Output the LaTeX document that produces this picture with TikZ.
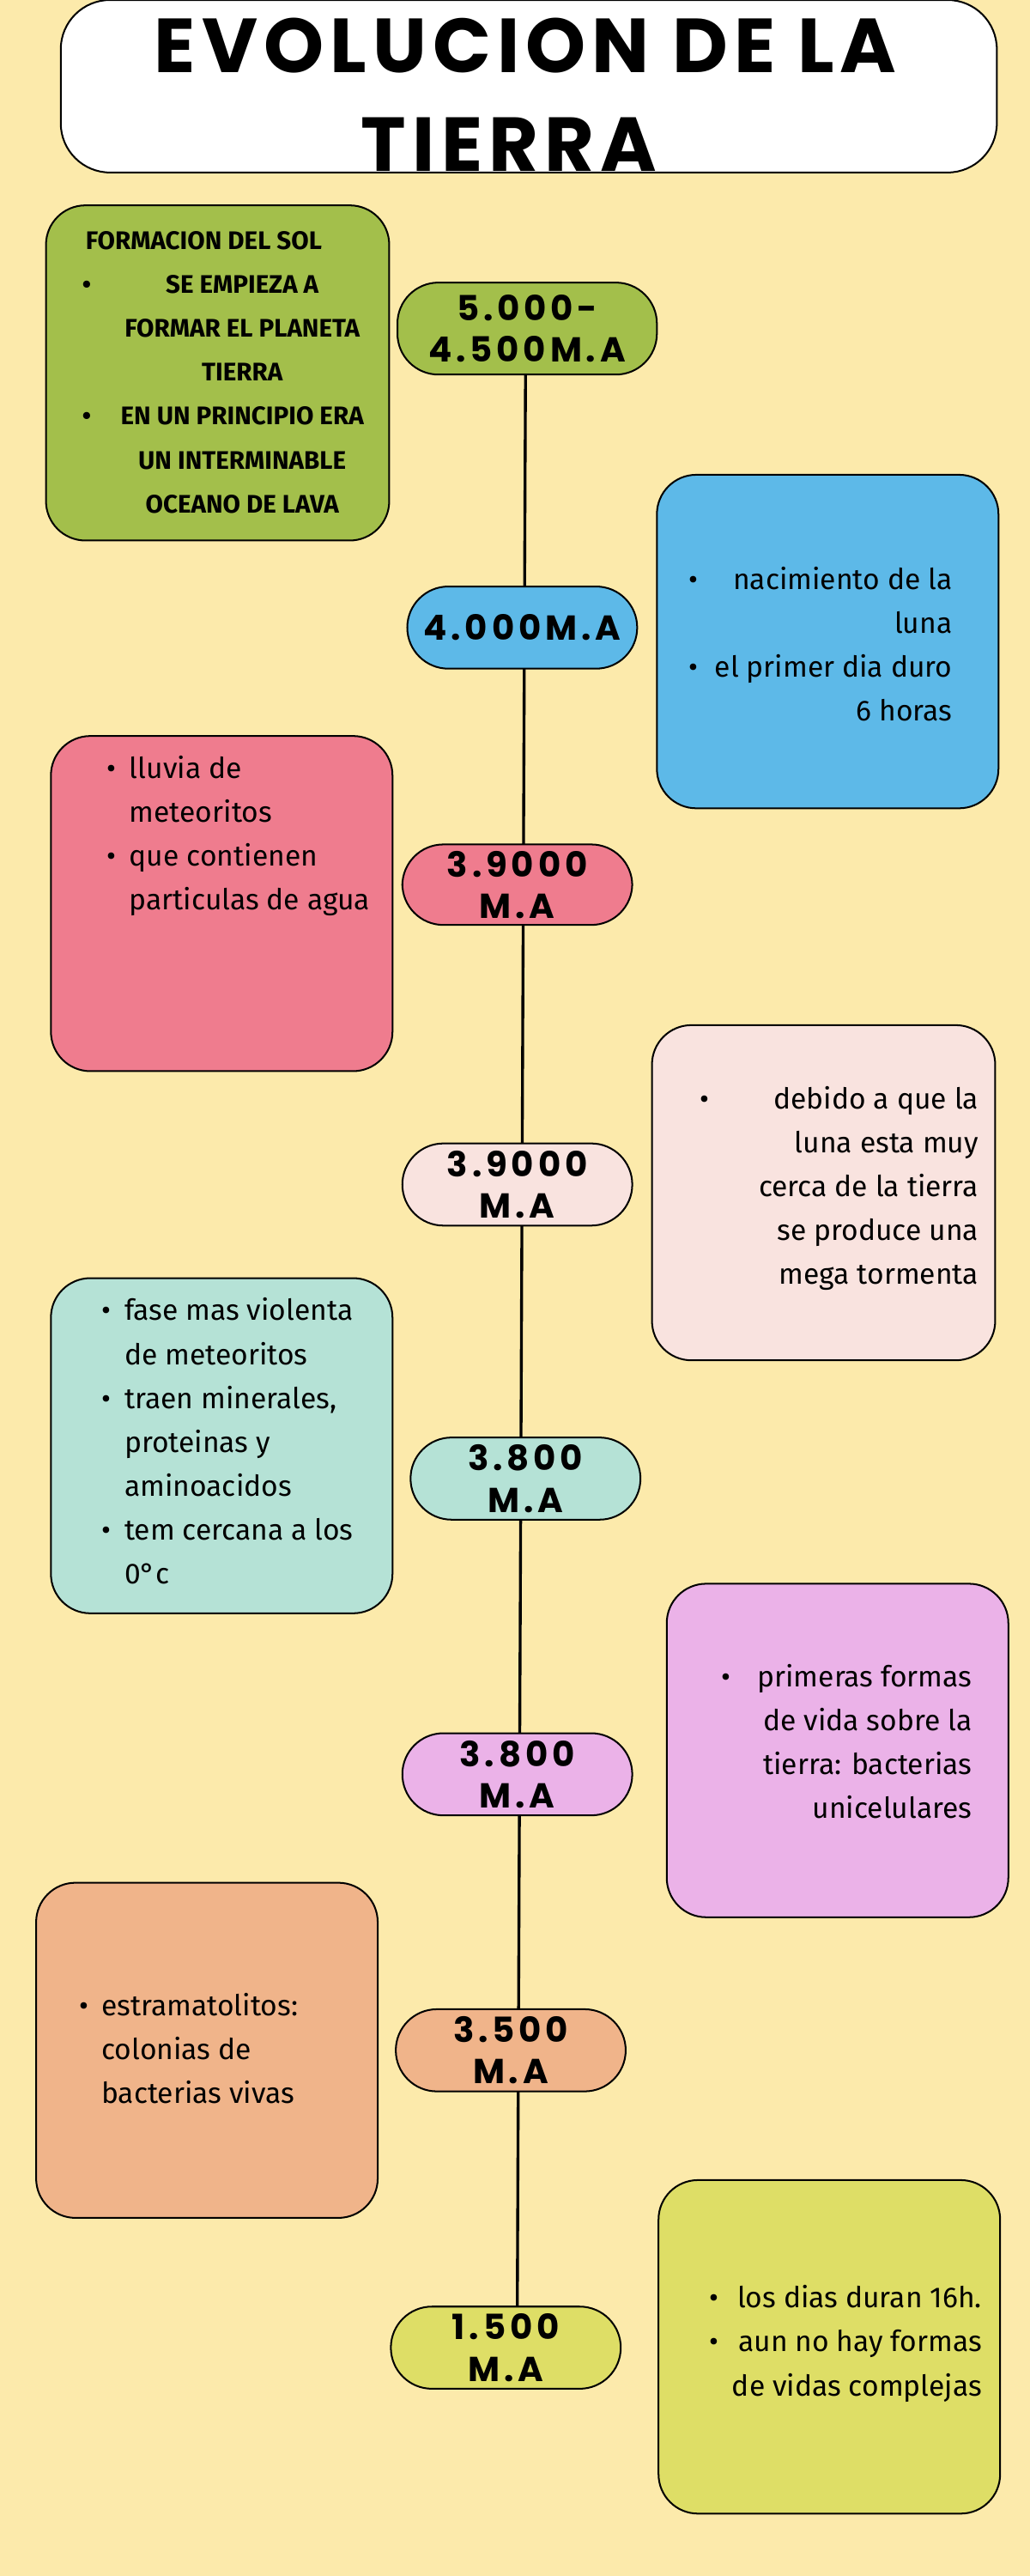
\documentclass[tikz,border=0pt]{standalone}
\usepackage{fontspec}
\usepackage{graphicx}
\setmainfont{Fira Sans}
\newfontfamily\datefont[LetterSpace=12]{Poppins}
\newfontfamily\titlefont[LetterSpace=8]{Poppins}
\definecolor{bg}{HTML}{FCEAAB}
\definecolor{cgreen}{HTML}{A3BF4B}
\definecolor{cblue}{HTML}{5DB9E8}
\definecolor{cpink}{HTML}{EF7C8E}
\definecolor{clight}{HTML}{F9E3DF}
\definecolor{cmint}{HTML}{B5E2D6}
\definecolor{clav}{HTML}{EBB2E8}
\definecolor{cpeach}{HTML}{F0B48A}
\definecolor{cyel}{HTML}{DEDE66}
\tikzset{
 x=0.05cm,y=-0.05cm,
 box/.style={draw=black,line width=1.5pt,rounded corners=1.2cm},
 datebox/.style={draw=black,line width=1.5pt,rounded corners=1.25cm},
 datetxt/.style={font=\datefont\bfseries\fontsize{30}{36}\selectfont,align=center,inner sep=0pt},
 boxtxt/.style={font=\fontsize{25}{38}\selectfont,inner sep=0pt},
}
\newcommand{\bl}{\textbullet}
\begin{document}
\begin{tikzpicture}
\fill[bg] (0,0) rectangle (627,1568);
\useasboundingbox (0,0) rectangle (627,1568);
% title
\draw[box,fill=white,rounded corners=1.5cm] (37,0) rectangle (607,105);
\node[inner sep=0pt] (t1) at (320,28) {\resizebox{22.6cm}{!}{\titlefont\bfseries\fontsize{80}{80}\selectfont EVOLUCION DE LA}};
\node[inner sep=0pt] (t2) at (310,88) {\resizebox{9cm}{!}{\titlefont\bfseries\fontsize{80}{80}\selectfont TIERRA}};
% timeline
\coordinate (top) at (320,228);
\coordinate (bot) at (315,1405);
\draw[line width=2.5pt] (top) -- (bot);
% dates
\newcommand{\datenode}[7]{%
 \draw[datebox,fill=#2] (#3,#4) rectangle (#5,#6);
 \node[datetxt] (#1) at ({(#3+#5)/2},{(#4+#6)/2}) {#7};}
\datenode{d1}{cgreen}{242}{172}{400}{228}{5.000-\\4.500M.A}
\datenode{d2}{cblue}{248}{357}{388}{407}{4.000M.A}
\datenode{d3}{cpink}{245}{514}{385}{563}{3.9000\\M.A}
\datenode{d4}{clight}{245}{696}{385}{746}{3.9000\\M.A}
\datenode{d5}{cmint}{250}{875}{390}{925}{3.800\\M.A}
\datenode{d6}{clav}{245}{1055}{385}{1105}{3.800\\M.A}
\datenode{d7}{cpeach}{241}{1223}{381}{1273}{3.500\\M.A}
\datenode{d8}{cyel}{238}{1404}{378}{1454}{1.500\\M.A}
% boxes
\draw[box,fill=cgreen] (28,125) rectangle (237,329);
\node[boxtxt,font=\fontsize{22}{38}\selectfont\bfseries,anchor=north west] (ba) at (50,133) {%
\begin{tabular}{@{}l@{\hspace{0.9cm}}c@{}}
\multicolumn{2}{@{}l@{}}{\hspace{0.1cm}FORMACION DEL SOL}\\
\bl & SE EMPIEZA A\\
 & FORMAR EL PLANETA\\
 & TIERRA\\
\bl & EN UN PRINCIPIO ERA\\
 & UN INTERMINABLE\\
 & OCEANO DE LAVA
\end{tabular}};
\draw[box,fill=cblue] (400,289) rectangle (608,492);
\node[boxtxt,anchor=north east] (bb) at (580,340) {%
\begin{tabular}{@{}l@{\hspace{0.5cm}}r@{}}
\bl & nacimiento de la\\
 & luna\\
\bl & el primer dia duro\\
 & 6 horas
\end{tabular}};
\draw[box,fill=cpink] (31,448) rectangle (239,652);
\node[boxtxt,anchor=north west] (bc) at (65,455) {%
\begin{tabular}{@{}l@{\hspace{0.4cm}}l@{}}
\bl & lluvia de\\
 & meteoritos\\
\bl & que contienen\\
 & particulas de agua
\end{tabular}};
\draw[box,fill=clight] (397,624) rectangle (606,828);
\node[boxtxt,anchor=north east] (bd) at (596,656) {%
\begin{tabular}{@{}l@{\hspace{1.5cm}}r@{}}
\bl & debido a que la\\
 & luna esta muy\\
 & cerca de la tierra\\
 & se produce una\\
 & mega tormenta
\end{tabular}};
\draw[box,fill=cmint] (31,778) rectangle (239,982);
\node[boxtxt,anchor=north west] (be) at (62,785) {%
\begin{tabular}{@{}l@{\hspace{0.4cm}}l@{}}
\bl & fase mas violenta\\
 & de meteoritos\\
\bl & traen minerales,\\
 & proteinas y\\
 & aminoacidos\\
\bl & tem cercana a los\\
 & 0°c
\end{tabular}};
\draw[box,fill=clav] (406,964) rectangle (614,1167);
\node[boxtxt,anchor=north east] (bf) at (592,1008) {%
\begin{tabular}{@{}l@{\hspace{0.8cm}}r@{}}
\bl & primeras formas\\
 & de vida sobre la\\
 & tierra: bacterias\\
 & unicelulares
\end{tabular}};
\draw[box,fill=cpeach] (22,1146) rectangle (230,1350);
\node[boxtxt,anchor=north west] (bg) at (48,1208) {%
\begin{tabular}{@{}l@{\hspace{0.4cm}}l@{}}
\bl & estramatolitos:\\
 & colonias de\\
 & bacterias vivas
\end{tabular}};
\draw[box,fill=cyel] (401,1327) rectangle (609,1530);
\node[boxtxt,anchor=north east] (bh) at (598,1386) {%
\begin{tabular}{@{}l@{\hspace{0.4cm}}r@{}}
\bl & los dias duran 16h.\\
\bl & aun no hay formas\\
 & de vidas complejas
\end{tabular}};
\end{tikzpicture}
\end{document}
